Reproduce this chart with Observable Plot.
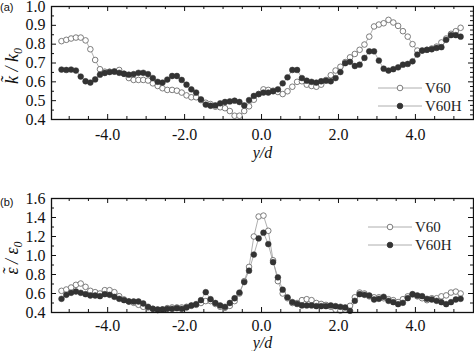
<!DOCTYPE html>
<html>
<head>
<meta charset="utf-8">
<script src="https://cdn.jsdelivr.net/npm/d3@7"></script>
<script src="https://cdn.jsdelivr.net/npm/@observablehq/plot@0.6"></script>
<style>
  html, body { margin: 0; padding: 0; background: #fff; }
  #chart { width: 474px; }
  #chart svg { display: block; }
</style>
</head>
<body>
<div id="chart"></div>
<script>
// ---- data ----
const yd = [-5.2,-5.075,-4.95,-4.825,-4.7,-4.575,-4.45,-4.325,-4.2,-4.075,
  -3.95,-3.825,-3.7,-3.575,-3.45,-3.325,-3.2,-3.075,-2.95,-2.825,
  -2.7,-2.575,-2.45,-2.325,-2.2,-2.075,-1.95,-1.825,-1.7,-1.575,
  -1.45,-1.325,-1.2,-1.075,-0.95,-0.825,-0.7,-0.575,-0.45,-0.325,
  -0.2,-0.075,0.05,0.175,0.3,0.425,0.55,0.675,0.8,0.925,
  1.05,1.175,1.3,1.425,1.55,1.675,1.8,1.925,2.05,2.175,
  2.3,2.425,2.55,2.675,2.8,2.925,3.05,3.175,3.3,3.425,
  3.55,3.675,3.8,3.925,4.05,4.175,4.3,4.425,4.55,4.675,
  4.8,4.925,5.05,5.175];

const kV60 = [0.816,0.823,0.83,0.835,0.835,0.82,0.773,0.716,0.667,0.654,
  0.654,0.656,0.663,0.642,0.62,0.61,0.61,0.61,0.607,0.592,
  0.578,0.566,0.557,0.557,0.553,0.543,0.528,0.518,0.518,0.503,
  0.489,0.482,0.468,0.465,0.46,0.445,0.42,0.42,0.445,0.47,
  0.505,0.535,0.56,0.557,0.553,0.546,0.535,0.55,0.574,0.6,
  0.603,0.585,0.578,0.574,0.585,0.61,0.635,0.66,0.68,0.705,
  0.73,0.748,0.77,0.798,0.84,0.894,0.904,0.911,0.929,0.915,
  0.897,0.869,0.84,0.8,0.766,0.766,0.77,0.777,0.787,0.809,
  0.83,0.855,0.869,0.887];

const kV60H = [0.665,0.663,0.665,0.66,0.628,0.603,0.596,0.613,0.638,0.647,
  0.652,0.654,0.648,0.643,0.638,0.641,0.648,0.648,0.641,0.62,
  0.6,0.596,0.612,0.631,0.631,0.61,0.585,0.56,0.543,0.507,
  0.479,0.473,0.475,0.486,0.493,0.496,0.5,0.493,0.475,0.503,
  0.525,0.535,0.543,0.543,0.55,0.56,0.592,0.624,0.663,0.663,
  0.62,0.606,0.6,0.596,0.603,0.606,0.603,0.62,0.652,0.699,
  0.706,0.684,0.691,0.727,0.762,0.762,0.713,0.67,0.66,0.667,
  0.677,0.691,0.695,0.709,0.745,0.766,0.77,0.773,0.78,0.784,
  0.823,0.848,0.848,0.84];

const eV60 = [0.628,0.642,0.663,0.691,0.705,0.67,0.628,0.614,0.6,0.635,
  0.635,0.614,0.572,0.537,0.516,0.502,0.481,0.46,0.453,0.439,
  0.425,0.432,0.446,0.453,0.453,0.453,0.46,0.47,0.48,0.5,
  0.52,0.52,0.49,0.46,0.45,0.47,0.52,0.6,0.73,0.88,
  1.2,1.41,1.42,1.26,0.95,0.73,0.6,0.55,0.5,0.5,
  0.53,0.54,0.53,0.5,0.49,0.48,0.46,0.43,0.42,0.43,
  0.47,0.56,0.61,0.6,0.57,0.56,0.56,0.55,0.54,0.53,
  0.51,0.54,0.57,0.59,0.57,0.55,0.53,0.55,0.55,0.57,
  0.58,0.61,0.62,0.6];

const eV60H = [0.544,0.586,0.607,0.621,0.607,0.593,0.579,0.579,0.572,0.593,
  0.586,0.565,0.544,0.53,0.516,0.516,0.516,0.495,0.46,0.439,
  0.432,0.432,0.439,0.439,0.446,0.439,0.453,0.474,0.488,0.53,
  0.614,0.54,0.5,0.474,0.46,0.5,0.55,0.61,0.72,0.84,
  1.01,1.18,1.24,1.12,0.93,0.77,0.64,0.56,0.51,0.49,
  0.474,0.474,0.474,0.467,0.467,0.467,0.474,0.467,0.46,0.453,
  0.418,0.523,0.593,0.586,0.579,0.537,0.544,0.565,0.523,0.509,
  0.488,0.502,0.551,0.593,0.579,0.572,0.544,0.537,0.523,0.509,
  0.488,0.509,0.537,0.544];

const seriesNames = ["V60", "V60H"];
const xTickLabels = [-4, -2, 0, 2, 4];
const kTickLabels = [0.4, 0.5, 0.6, 0.7, 0.8, 0.9, 1.0];
const eTickLabels = [0.4, 0.6, 0.8, 1.0, 1.2, 1.4, 1.6];

// ---- drawing ----
const W = 474;
const fmt = d => d.toFixed(1);
const serif = "Liberation Serif, Tinos, Times New Roman, serif";
const sans = "Liberation Sans, Arimo, Arial, sans-serif";
const xDomain = [-5.46, 5.51];
const LINE = "#9a9a9a", OPEN = "#6e6e6e", FILL = "#333";

function innerTicks(frameW, frameH, xMajor, xMinor, yMajL, yMinL, yMajR, yMinR) {
  const M = 5, m = 3, st = {stroke: "#111", strokeWidth: 1};
  return [
    Plot.tickX(xMajor, {x: d => d, insetTop: frameH - M, ...st}),
    Plot.tickX(xMinor, {x: d => d, insetTop: frameH - m, ...st}),
    Plot.tickX(xMajor, {x: d => d, insetBottom: frameH - M, ...st}),
    Plot.tickX(xMinor, {x: d => d, insetBottom: frameH - m, ...st}),
    Plot.tickY(yMajL, {y: d => d, insetRight: frameW - M, ...st}),
    Plot.tickY(yMinL, {y: d => d, insetRight: frameW - m, ...st}),
    Plot.tickY(yMajR, {y: d => d, insetLeft: frameW - M, ...st}),
    Plot.tickY(yMinR, {y: d => d, insetLeft: frameW - m, ...st})
  ];
}

const xMinor = d3.range(-5, 5.01, 0.5).filter(v => !xTickLabels.includes(v));

function panel({height, mt, mb, yDomain, yTicks, yMinL, yMinR, a, b, labelDy, xPad}) {
  const frameW = W - 51 - 1, frameH = height - mt - mb;
  const rows = yd.map((x, i) => ({x, a: a[i], b: b[i]}));
  return Plot.plot({
    width: W, height,
    marginLeft: 51, marginRight: 1, marginTop: mt, marginBottom: mb,
    x: {domain: xDomain},
    y: {domain: yDomain},
    style: {fontFamily: serif, fontSize: "16px", color: "#111", background: "#fff", overflow: "visible"},
    marks: [
      Plot.axisX(xTickLabels, {tickSize: 0, tickPadding: xPad, tickFormat: fmt, label: null, fontSize: 16}),
      Plot.axisY(yTicks, {tickSize: 0, tickPadding: 6, tickFormat: fmt, label: null, fontSize: 16}),
      ...innerTicks(frameW, frameH, xTickLabels, xMinor, yTicks, yMinL, yTicks, yMinR),
      Plot.line(rows, {x: "x", y: "b", stroke: LINE, strokeWidth: 0.8}),
      Plot.line(rows, {x: "x", y: "a", stroke: LINE, strokeWidth: 0.8}),
      Plot.dot(rows, {x: "x", y: "a", r: 2.8, fill: "#fff", stroke: OPEN, strokeWidth: 0.9}),
      Plot.dot(rows, {x: "x", y: "b", r: 2.9, fill: FILL, stroke: FILL, strokeWidth: 0.5}),
      Plot.frame({stroke: "#111", strokeWidth: 1.3}),
      Plot.text(["y/d"], {frameAnchor: "bottom", dy: labelDy, lineAnchor: "top", fontStyle: "italic", fontSize: 16, fill: "#111"})
    ]
  });
}

function addLegend(svg, x0, x1, y0, gap, tx) {
  const g = d3.select(svg).append("g").attr("font-family", serif).attr("font-size", 15).attr("text-anchor", "start");
  seriesNames.forEach((name, i) => {
    const y = y0 + i * gap;
    g.append("line").attr("x1", x0).attr("x2", x1).attr("y1", y).attr("y2", y)
      .attr("stroke", LINE).attr("stroke-width", 0.8);
    g.append("circle").attr("cx", (x0 + x1) / 2).attr("cy", y).attr("r", 2.8)
      .attr("fill", i === 0 ? "#fff" : FILL).attr("stroke", i === 0 ? OPEN : FILL).attr("stroke-width", 0.9);
    g.append("text").attr("x", tx).attr("y", y).attr("dy", "0.35em").attr("fill", "#222").text(name);
  });
}

function addLabels(svg, tag, tagY, cy, sym, manualTilde) {
  const s = d3.select(svg);
  s.append("text").attr("x", 0).attr("y", tagY).attr("text-anchor", "start")
    .attr("font-family", sans).attr("font-size", 11).attr("fill", "#111").text(tag);
  const t = s.append("text").attr("transform", `translate(18,${cy}) rotate(-90)`)
    .attr("text-anchor", "middle").attr("font-family", serif).attr("font-style", "italic")
    .attr("font-size", 18).attr("fill", "#111");
  if (manualTilde) {
    t.append("tspan").text(sym);
    t.append("tspan").attr("dx", -7).attr("dy", -2).text("\u02dc");
    t.append("tspan").attr("dy", 2).text(" / " + sym);
  } else {
    t.append("tspan").text(sym + "\u0303");
    t.append("tspan").text(" / " + sym);
  }
  t.append("tspan").attr("font-size", 12).attr("dy", 4).text("0");
}

const topPanel = panel({
  height: 175, mt: 6, mb: 56, yDomain: [0.4, 1.0], yTicks: kTickLabels, labelDy: 27, xPad: 9,
  yMinL: d3.range(0.45, 1.0, 0.1), yMinR: d3.range(0.425, 1.0, 0.025).filter((v, i) => i % 4 !== 3),
  a: kV60, b: kV60H
});
addLegend(topPanel, 378, 422, 88, 18, 425);
addLabels(topPanel, "(a)", 11, 66, "k", false);

const bottomPanel = panel({
  height: 176, mt: 23, mb: 39, yDomain: [0.4, 1.6], yTicks: eTickLabels, labelDy: 24, xPad: 7,
  yMinL: d3.range(0.5, 1.6, 0.2), yMinR: d3.range(0.5, 1.6, 0.2),
  a: eV60, b: eV60H
});
addLegend(bottomPanel, 368, 412, 52, 18, 415);
addLabels(bottomPanel, "(b)", 31, 83, "\u03b5", true);

document.getElementById("chart").append(topPanel, bottomPanel);
</script>
</body>
</html>
